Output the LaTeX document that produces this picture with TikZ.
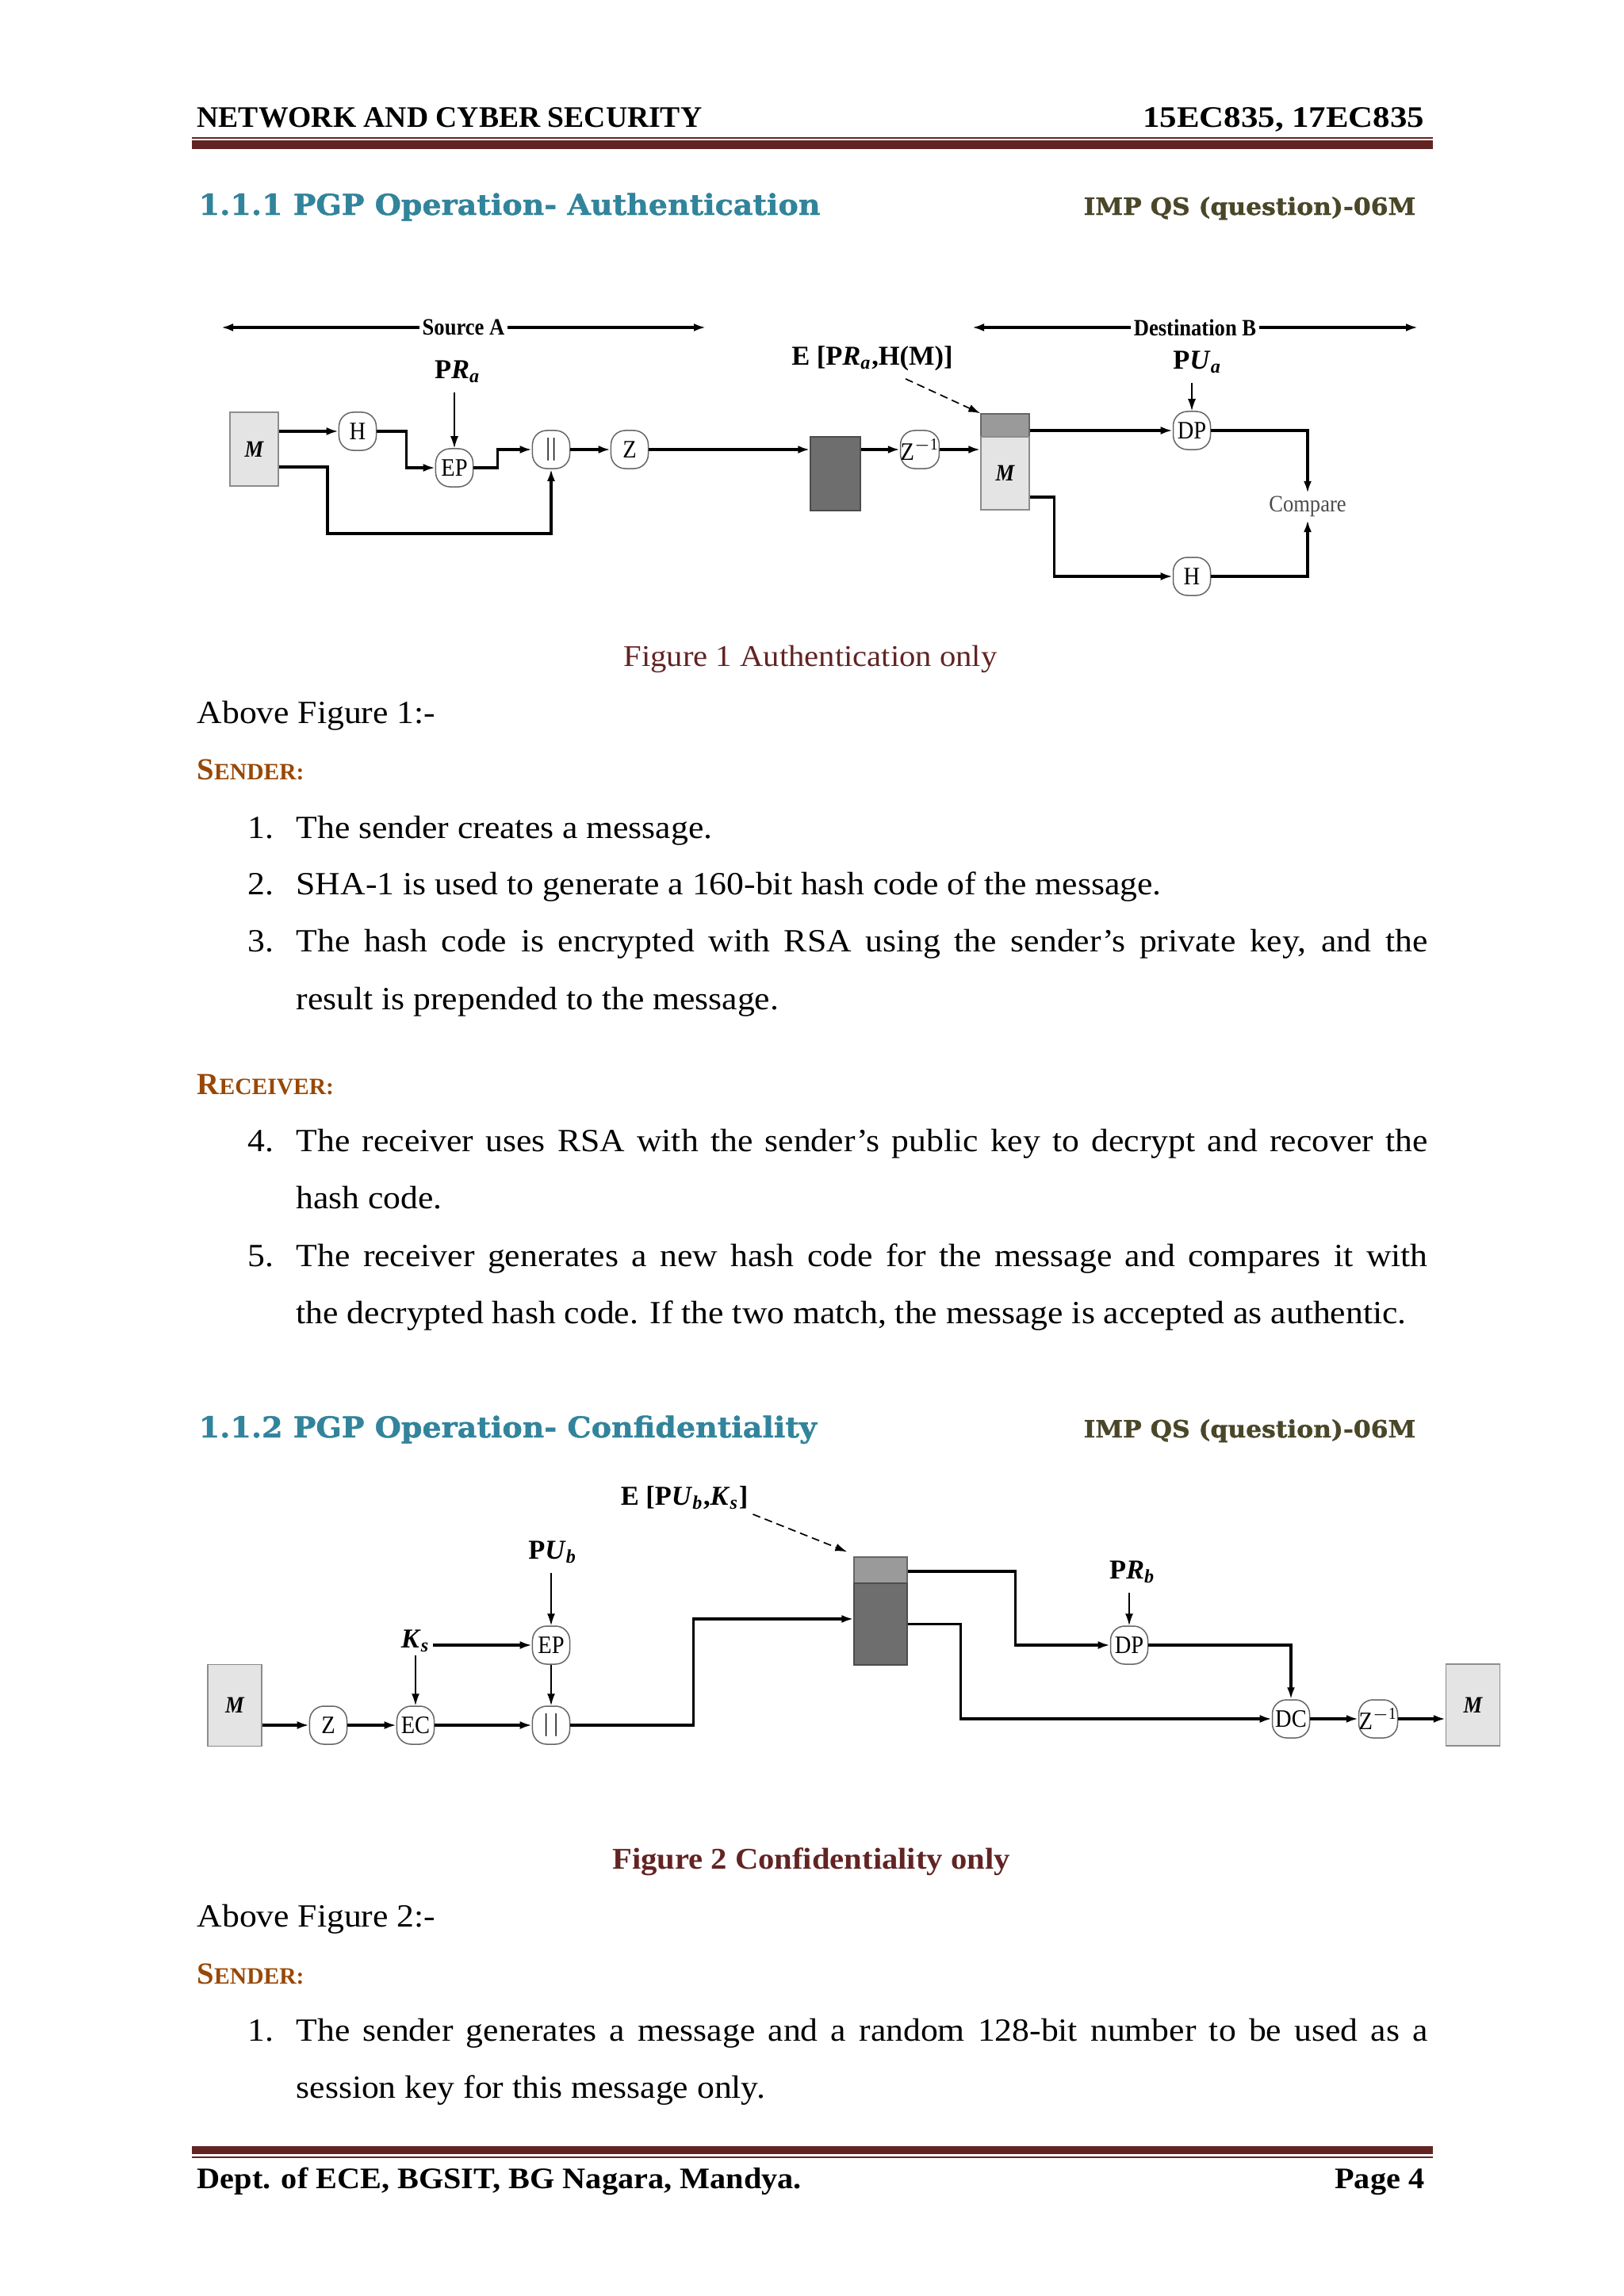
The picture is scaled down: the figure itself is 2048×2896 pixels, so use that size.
\documentclass[tikz,border=0pt]{standalone}
\usepackage{fontspec}
\setmainfont{Liberation Serif}[FakeStretch=1.07]
\newfontfamily\plainfont{Liberation Serif}
\newfontfamily\widefont{Liberation Serif}[FakeStretch=1.14]
\newfontfamily\headfont{DejaVu Serif}[BoldFeatures={FakeBold=1.2,FakeStretch=1.05}]
\newfontfamily\figfont{Liberation Serif}[FakeStretch=0.9]
\usepackage{xcolor}
\usetikzlibrary{arrows.meta}

\definecolor{rulered}{HTML}{622423}
\definecolor{titleteal}{HTML}{31849B}
\definecolor{impolive}{HTML}{4A4729}
\definecolor{sendbrown}{HTML}{984806}
\definecolor{boxlight}{HTML}{E4E4E4}
\definecolor{boxdark}{HTML}{6E6E6E}
\definecolor{boxmid}{HTML}{9A9A9A}

\newcommand{\keyname}[3]{\textbf{#1\textit{#2}\textsubscript{\textit{#3}}}}
\newcommand{\smcap}[2]{\plainfont\bfseries{\fontsize{11}{14}\selectfont #1}{\fontsize{8.4}{12}\selectfont #2}}
\newcommand{\zinv}{Z\textsuperscript{$-$1}}

\tikzset{
  bodytext/.style={anchor=base west, inner sep=0pt, font=\fontsize{11.6}{14}\selectfont},
  headtext/.style={anchor=base west, inner sep=0pt, font=\bfseries\fontsize{10.7}{13}\selectfont},
  sectitle/.style={anchor=base west, inner sep=0pt, text=titleteal, font=\headfont\bfseries\fontsize{10.3}{12}\selectfont},
  impmark/.style={anchor=base east, inner sep=0pt, text=impolive, font=\headfont\bfseries\fontsize{8.5}{12}\selectfont},
  caption/.style={anchor=base, inner sep=0pt, text=rulered, font=\fontsize{10.8}{13}\selectfont},
  op/.style={draw=black!60, fill=white, rounded corners=0.18cm, minimum width=0.47cm,
    minimum height=0.48cm, inner sep=0pt, line width=0.015cm, font=\figfont\fontsize{9}{10}\selectfont},
  msgbox/.style={draw=black!45, fill=boxlight, inner sep=0pt, font=\figfont\bfseries\itshape\fontsize{8.4}{10}\selectfont},
  encbox/.style={draw=black!70, fill=boxdark, inner sep=0pt},
  sigbox/.style={draw=black!60, fill=boxmid, inner sep=0pt},
  lbl/.style={inner sep=1pt, font=\figfont\fontsize{8.4}{10}\selectfont},
  keylbl/.style={inner sep=1pt, font=\plainfont\fontsize{9.8}{11}\selectfont},
  conn/.style={line width=0.032cm},
  keyline/.style={line width=0.017cm},
}

\begin{document}
\begin{tikzpicture}[x=0.01cm, y=-0.01cm, >={Latex[length=0.15cm,width=0.1cm]}]
\useasboundingbox (0,0) rectangle (2048,2896);
\fill[white] (0,0) rectangle (2048,2896);

% page header
\node[headtext, font=\plainfont\bfseries\fontsize{10.7}{13}\selectfont] (hdleft) at (248,160) {NETWORK AND CYBER SECURITY};
\node[headtext, anchor=base east, font=\widefont\bfseries\fontsize{10.7}{13}\selectfont] (hdright) at (1797,160) {15EC835, 17EC835};
\fill[rulered] (242,172.5) rectangle (1807,174.5);
\fill[rulered] (242,177) rectangle (1807,188);

\node[sectitle] (sec1) at (250,271) {1.1.1 PGP Operation- Authentication};
\node[impmark] (imp1) at (1786,271) {IMP QS (question)-06M};

% figure 1
\coordinate (srcl) at (279,413);
\coordinate (srcr) at (890,413);
\draw[<->, conn] (srcl) -- (srcr) node[midway, fill=white, lbl] {\textbf{Source A}};
\coordinate (dstl) at (1226,413);
\coordinate (dstr) at (1788,413);
\draw[<->, conn] (dstl) -- (dstr) node[midway, fill=white, lbl] {\textbf{Destination B}};

\node[msgbox, minimum width=0.61cm, minimum height=0.93cm] (srcM) at (320.5,566.5) {M};
\node[op] (hash1) at (451,544) {H};
\node[op] (ep1) at (573,590) {EP};
\node[op] (cat1) at (695,567) {|\kern0.5pt|};
\node[op] (zip1) at (794,567) {Z};
\node[encbox, minimum width=0.63cm, minimum height=0.93cm] (enc1) at (1053.5,597.5) {};
\node[op] (unzip1) at (1160,567) {\zinv};
\node[sigbox, minimum width=0.61cm, minimum height=0.29cm] (dsig) at (1267.5,536.5) {};
\node[msgbox, minimum width=0.61cm, minimum height=0.92cm] (dmsg) at (1267.5,597) {M};
\node[op] (dp1) at (1503,543) {DP};
\node[op] (hash2) at (1503,727) {H};
\node[lbl, text=black!70] (cmp) at (1649,639) {Compare};

\node[keylbl] (pra) at (577,469) {\keyname{P}{R}{a}};
\node[keylbl] (pua) at (1510,457) {\keyname{P}{U}{a}};
\node[keylbl] (esig) at (1100,452) {\textbf{E [P\textit{R}\textsubscript{\textit{a}},H(M)]}};

\draw[->, conn] (hash1.west -| srcM.east) -- (hash1.west);
\draw[->, conn] (hash1.east) -- ++(37,0) |- (ep1.west);
\draw[->, conn] (ep1.east) -- ++(30,0) |- (cat1.west);
\draw[->, conn] ([yshift=-0.225cm]srcM.east) -| (413,673) -| (cat1.south);
\draw[->, conn] (cat1) -- (zip1);
\draw[->, conn] (zip1.east) -- (zip1.east -| enc1.west);
\draw[->, conn] (unzip1.west -| enc1.east) -- (unzip1.west);
\draw[->, conn] (unzip1.east) -- (unzip1.east -| dmsg.west);
\draw[->, conn] (dp1.west -| dsig.east) -- (dp1.west);
\draw[->, conn] (dp1.east) -| (cmp.north);
\draw[->, conn] ([yshift=-0.30cm]dmsg.east) -- ++(31,0) |- (hash2.west);
\draw[->, conn] (hash2.east) -| (cmp.south);
\draw[->, keyline] ([yshift=-0.08cm]pra.south -| ep1.north) -- (ep1.north);
\draw[->, keyline] ([yshift=-0.08cm]pua.south -| dp1.north) -- (dp1.north);
\draw[->, keyline, dash pattern=on 0.1cm off 0.06cm] ([xshift=0.42cm,yshift=-0.06cm]esig.south) -- (dsig.north west);

\node[caption] (cap1) at (1022,840) {Figure 1 Authentication only};

% text on figure 1
\node[bodytext] (abv1) at (248,912) {Above Figure 1:-};
\node[bodytext, text=sendbrown] (snd1) at (248,983) {\smcap{S}{ENDER:}};
\node[bodytext] (n1) at (312,1057) {1.};
\node[bodytext] (t1) at (373,1057) {The sender creates a message.};
\node[bodytext] (n2) at (312,1128) {2.};
\node[bodytext] (t2) at (373,1128) {SHA-1 is used to generate a 160-bit hash code of the message.};
\node[bodytext] (n3) at (312,1200) {3.};
\node[bodytext] (t3) at (373,1200) {\makebox[14.26cm][s]{The hash code is encrypted with RSA using the sender’s private key, and the}};
\node[bodytext] (t3b) at (373,1273) {result is prepended to the message.};
\node[bodytext, text=sendbrown] (rcv1) at (248,1380) {\smcap{R}{ECEIVER:}};
\node[bodytext] (n4) at (312,1452) {4.};
\node[bodytext] (t4) at (373,1452) {\makebox[14.26cm][s]{The receiver uses RSA with the sender’s public key to decrypt and recover the}};
\node[bodytext] (t4b) at (373,1524) {hash code.};
\node[bodytext] (n5) at (312,1597) {5.};
\node[bodytext] (t5) at (373,1597) {\makebox[14.26cm][s]{The receiver generates a new hash code for the message and compares it with}};
\node[bodytext] (t5b) at (373,1669) {the decrypted hash code. If the two match, the message is accepted as authentic.};

\node[sectitle] (sec2) at (250,1813) {1.1.2 PGP Operation- Confidentiality};
\node[impmark] (imp2) at (1786,1813) {IMP QS (question)-06M};

% figure 2
\node[msgbox, minimum width=0.68cm, minimum height=1.03cm] (sndM) at (296,2151) {M};
\node[op] (zip2) at (414,2176) {Z};
\node[op] (ec2) at (524,2176) {EC};
\node[op] (cat2) at (695,2176) {|\kern2pt|};
\node[op] (ep2) at (695,2075) {EP};
\node[keylbl] (ks) at (524,2070) {\textbf{\textit{K}\textsubscript{\textit{s}}}};
\node[keylbl] (pub) at (697,1958) {\keyname{P}{U}{b}};
\node[keylbl] (ekey) at (863,1889) {\textbf{E [P\textit{U}\textsubscript{\textit{b}},\textit{K}\textsubscript{\textit{s}}]}};
\node[sigbox, minimum width=0.67cm, minimum height=0.33cm] (ksig) at (1110.5,1980.5) {};
\node[encbox, minimum width=0.67cm, minimum height=1.03cm] (kmsg) at (1110.5,2048.5) {};
\node[keylbl] (prb) at (1428,1983) {\keyname{P}{R}{b}};
\node[op] (dp2) at (1424,2075) {DP};
\node[op] (dc2) at (1628,2168) {DC};
\node[op] (unzip2) at (1738,2168) {\zinv};
\node[msgbox, minimum width=0.68cm, minimum height=1.03cm] (rcvM) at (1857.5,2150.5) {M};

\draw[->, conn] (zip2.west -| sndM.east) -- (zip2.west);
\draw[->, conn] (zip2) -- (ec2);
\draw[->, conn] (ec2) -- (cat2);
\draw[->, conn] (cat2.east) -- ++(155,0) |- ([yshift=0.065cm]kmsg.west);
\draw[->, conn] (ep2.west -| ks.east) -- (ep2.west);
\draw[->, keyline] (ec2.north |- ks.south) -- (ec2.north);
\draw[->, keyline] ([yshift=-0.08cm]pub.south -| ep2.north) -- (ep2.north);
\draw[->, keyline] (ep2) -- (cat2);
\draw[->, keyline, dash pattern=on 0.1cm off 0.06cm] ([xshift=0.02cm,yshift=-0.02cm]ekey.south east) -- ([shift={(-0.08cm,0.06cm)}]ksig.north west);
\draw[->, conn] (ksig.east |- 0,1982) -- ++(136,0) |- (dp2.west);
\draw[->, keyline] ([yshift=-0.08cm]prb.south -| dp2.north) -- (dp2.north);
\draw[->, conn] (dp2.east) -| (dc2.north);
\draw[->, conn] (kmsg.east) -- ++(67,0) |- (dc2.west);
\draw[->, conn] (dc2) -- (unzip2);
\draw[->, conn] (unzip2.east) -- (unzip2.east -| rcvM.west);

\node[caption, font=\bfseries\fontsize{10.8}{13}\selectfont] (cap2) at (1023,2357) {Figure 2 Confidentiality only};

% text on figure 2
\node[bodytext] (abv2) at (248,2430) {Above Figure 2:-};
\node[bodytext, text=sendbrown] (snd2) at (248,2502) {\smcap{S}{ENDER:}};
\node[bodytext] (m1) at (312,2574) {1.};
\node[bodytext] (u1) at (373,2574) {\makebox[14.26cm][s]{The sender generates a message and a random 128-bit number to be used as a}};
\node[bodytext] (u1b) at (373,2646) {session key for this message only.};

% page footer
\fill[rulered] (242,2707) rectangle (1807,2717);
\fill[rulered] (242,2720) rectangle (1807,2722);
\node[headtext] (ftleft) at (248,2760) {Dept. of ECE, BGSIT, BG Nagara, Mandya.};
\node[headtext, anchor=base east] (ftright) at (1797,2760) {Page 4};
\end{tikzpicture}
\end{document}
